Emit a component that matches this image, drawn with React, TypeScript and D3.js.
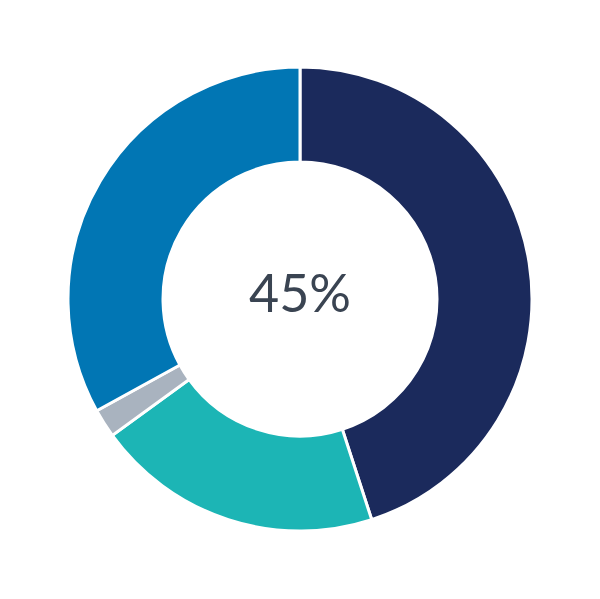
import React from 'react';
import * as d3 from 'd3';

const categories = ['A', 'B', 'C', 'D'];
const values = [45, 20, 2, 33];
const colors = ['#1b2a5c', '#1cb5b5', '#a9b3bf', '#0176b4'];
const centerLabel = '45%';

export default function App() {
  const width = 600;
  const height = 599;
  const cx = 300;
  const cy = 299;

  const pie = d3
    .pie<number>()
    .sort(null)
    .value((d) => d);
  const arcs = pie(values);

  const arc = d3.arc<d3.PieArcDatum<number>>().innerRadius(137).outerRadius(232);

  return (
    <svg
      width={width}
      height={height}
      style={{ position: 'absolute', left: 0, top: 0 }}
    >
      <g transform={`translate(${cx}, ${cy})`}>
        {arcs.map((a, i) => (
          <path
            key={categories[i]}
            d={arc(a) || ''}
            fill={colors[i]}
            stroke="#ffffff"
            strokeWidth={3}
          />
        ))}
        <text
          x={0}
          y={13}
          textAnchor="middle"
          fontFamily="Lato, sans-serif"
          fontSize={52}
          fill="#3a4452"
        >
          {centerLabel}
        </text>
      </g>
    </svg>
  );
}
